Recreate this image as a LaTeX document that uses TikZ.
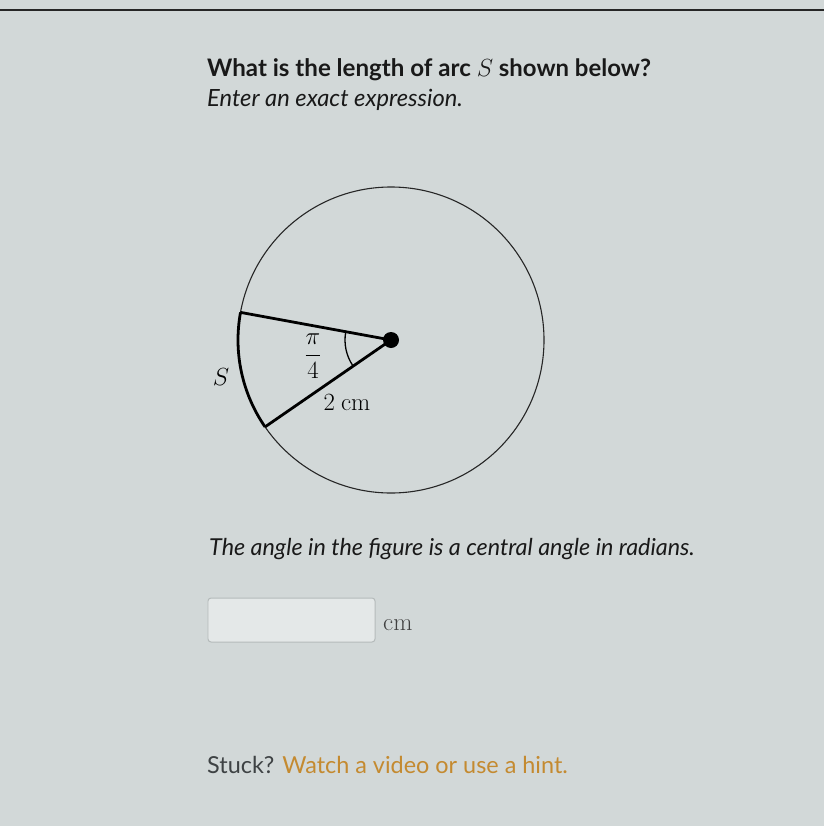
\documentclass[tikz,border=0pt]{standalone}
\usepackage{amsmath}
\usepackage[no-math]{fontspec}
\setmainfont{Lato}
\usetikzlibrary{calc}
\definecolor{bg}{HTML}{D2D8D8}
\definecolor{hint}{HTML}{C48A30}
\definecolor{stuck}{HTML}{3E4244}
\definecolor{boxedge}{HTML}{B4BABA}
\tikzset{
  fig/.style={line width=2.8pt, black},
  qtext/.style={anchor=base west, inner sep=0pt, text=black!90},
  mathlbl/.style={inner sep=0pt, font=\fontsize{24}{28}\selectfont},
}
\begin{document}
\begin{tikzpicture}[x=1bp,y=-1bp]
\fill[bg] (0,0) rectangle (824,826);
\useasboundingbox (0,0) rectangle (824,826);
\draw[line width=2pt, black!85] (0,10) -- (824,10);
% question text
\node[qtext, font=\bfseries\fontsize{24.2}{28}\selectfont] (q1) at (207,76)
  {What is the length of arc \fontsize{24}{28}\selectfont$S$ shown below?};
\node[qtext, font=\itshape\fontsize{23.8}{28}\selectfont] (q2) at (207,106)
  {Enter an exact expression.};
% figure
\coordinate (O) at (391,340);
\draw[line width=1.1pt, black!85] (O) circle (153bp);
\path (O) ++(169.6:153bp) coordinate (A);
\path (O) ++(214.6:153bp) coordinate (B);
\draw[fig, line join=round] (A) -- (O) -- (B);
\draw[fig] (A) arc[start angle=169.6, end angle=214.6, radius=153bp];
\draw[line width=1.3pt] ($(O)!46bp!(A)$) arc[start angle=169.6, end angle=214.6, radius=46bp];
\fill (O) circle (8bp);
\node[mathlbl] (frac) at (313,356) {$\dfrac{\pi}{4}$};
\node[mathlbl] (len) at (347,403) {$2\ \mathrm{cm}$};
\node[mathlbl, font=\fontsize{27}{30}\selectfont] (S) at (221,377) {$S$};
% instructions
\node[qtext, font=\itshape\fontsize{23.4}{28}\selectfont] (q3) at (209,555)
  {The angle in the figure is a central angle in radians.};
\node[draw=boxedge, line width=1pt, fill=bg!60!white, rounded corners=3pt, minimum width=167bp, minimum height=44bp, inner sep=0pt] (ans) at (291.5,620) {};
\node[inner sep=0pt, anchor=base west, font=\fontsize{26}{30}\selectfont, text=black!75] (unit) at (383,630) {$\mathrm{cm}$};
\node[qtext, font=\fontsize{23.5}{28}\selectfont] (stuck) at (207,773)
  {\textcolor{stuck}{Stuck?} \textcolor{hint}{Watch a video or use a hint.}};
\end{tikzpicture}
\end{document}
